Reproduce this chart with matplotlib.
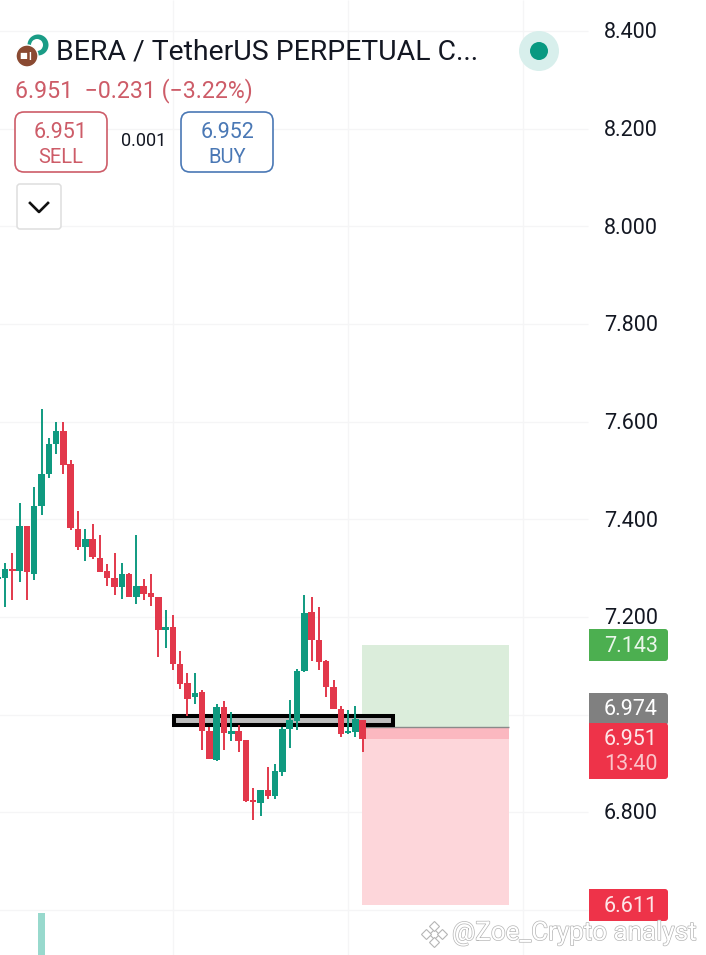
"""
BERA/USDT perpetual candles with a long position box, phone screenshot style.
Writes out.png at 706x955.
"""
import matplotlib
matplotlib.use("Agg")
import matplotlib.patheffects as pe
import matplotlib.pyplot as plt
import numpy as np
from matplotlib.patches import Circle, FancyBboxPatch, Rectangle

plt.rcParams["font.family"] = ["Roboto", "DejaVu Sans"]

W, H = 706, 955
GREEN = "#0f9a80"
RED = "#e2384b"
GRID = "#f5f5f6"
TEXT_DY = 2.2  # Roboto sits a little high with va="center"

opens = [7.277, 7.280, 7.299, 7.294, 7.386, 7.288, 7.427, 7.492, 7.554, 7.581,
         7.513, 7.381, 7.343, 7.359, 7.321, 7.294, 7.279, 7.261, 7.287, 7.240,
         7.264, 7.249, 7.241, 7.173, 7.179, 7.103, 7.064, 7.036, 7.046, 6.966,
         6.908, 7.015, 6.961, 6.966, 6.947, 6.824, 6.820, 6.845, 6.833, 6.882,
         6.971, 6.987, 7.089, 7.210, 7.152, 7.110, 7.057, 7.011, 6.962, 6.964,
         6.990]
closes = [7.282, 7.298, 7.294, 7.387, 7.292, 7.428, 7.493, 7.554, 7.581, 7.511,
          7.383, 7.343, 7.359, 7.323, 7.292, 7.280, 7.261, 7.287, 7.240, 7.263,
          7.247, 7.241, 7.173, 7.180, 7.104, 7.063, 7.033, 7.045, 6.966, 6.910,
          7.015, 6.962, 6.966, 6.945, 6.824, 6.821, 6.846, 6.833, 6.885, 6.971,
          6.990, 7.089, 7.209, 7.152, 7.108, 7.057, 7.011, 6.960, 6.966, 6.992,
          6.950]
highs = [7.300, 7.311, 7.332, 7.433, 7.386, 7.467, 7.626, 7.567, 7.599, 7.599,
         7.522, 7.417, 7.381, 7.391, 7.367, 7.308, 7.330, 7.311, 7.290, 7.367,
         7.277, 7.287, 7.241, 7.214, 7.205, 7.130, 7.085, 7.086, 7.050, 6.975,
         7.021, 7.027, 7.005, 6.978, 6.947, 6.850, 6.846, 6.893, 6.898, 6.975,
         7.029, 7.094, 7.244, 7.241, 7.220, 7.111, 7.070, 7.017, 7.009, 7.017,
         6.990]
lows = [7.250, 7.221, 7.234, 7.272, 7.234, 7.275, 7.408, 7.484, 7.534, 7.492,
        7.379, 7.338, 7.315, 7.319, 7.292, 7.263, 7.245, 7.237, 7.240, 7.226,
        7.234, 7.222, 7.118, 7.136, 7.091, 7.053, 6.998, 7.021, 6.928, 6.910,
        6.906, 6.928, 6.945, 6.923, 6.821, 6.785, 6.792, 6.828, 6.828, 6.874,
        6.932, 6.968, 7.087, 7.109, 7.091, 7.037, 7.011, 6.954, 6.960, 6.954,
        6.923]

price_ticks = [8.4, 8.2, 8.0, 7.8, 7.6, 7.4, 7.2, 6.8]
grid_prices = [8.4, 8.2, 8.0, 7.8, 7.6, 7.4, 7.2, 7.0, 6.8, 6.6]
time_grid = [24, 48, 72]

entry_price = 6.974
target_price = 7.143
stop_price = 6.611
last_price = 6.951
zone_low, zone_high = 6.979, 6.998
position_start, position_end = 49.9, 70.0
zone_start, zone_end = 24.1, 54.1
volume_index = 6
volume_top = 6.594


def price_y(price):
    return 31 + (8.4 - price) * 488.3


def label_box(ui, top, bottom, color, left=589, right=668):
    ui.add_patch(FancyBboxPatch((left + 4, top + 3), right - left - 7, bottom - top - 6,
                                boxstyle="round,pad=3", fc=color, ec="none", zorder=6))
    ui.add_patch(Rectangle((left, top), 8, bottom - top, fc=color, ec="none", zorder=6))


def label(ui, x, y, text, color, size, ha="center", zorder=7):
    ui.text(x, y + TEXT_DY, text, color=color, fontsize=size, ha=ha, va="center", zorder=zorder)


def draw_chart(ax):
    ax.set_xlim(2.3 / 7.3, (W + 2.3) / 7.3)
    ax.set_ylim(8.4 - (H - 31) / 488.3, 8.4 + 31 / 488.3)
    ax.axis("off")

    ax.hlines(grid_prices, 0, 80.9, color=GRID, lw=1.0, zorder=1)
    ax.vlines(time_grid, *ax.get_ylim(), color=GRID, lw=1.0, zorder=1)

    width = position_end - position_start
    ax.bar(position_start, target_price - entry_price, width, entry_price, align="edge",
           color="#dbeddb", zorder=2)
    ax.bar(position_start, stop_price - entry_price, width, entry_price, align="edge",
           color="#fdd6da", zorder=2)
    ax.bar(position_start, last_price - entry_price, width, entry_price, align="edge",
           color="#fbb8c0", zorder=2)
    ax.hlines(entry_price, position_start, position_end, color="#8a8a8a", lw=1, zorder=3)

    ax.bar(zone_start, zone_high - zone_low, zone_end - zone_start, zone_low, align="edge",
           fc="#bdbdbd", ec="black", lw=2.9, zorder=4)

    ax.bar(volume_index, volume_top - ax.get_ylim()[0], 0.85, ax.get_ylim()[0],
           color="#98d9cd", zorder=2)

    idx = np.arange(len(opens))
    o, c = np.array(opens), np.array(closes)
    colors = [GREEN if b >= a else RED for a, b in zip(o, c)]
    ax.vlines(idx, lows, highs, color=colors, lw=1.4, zorder=5)
    ax.bar(idx, np.maximum(np.abs(c - o), 0.004), 0.88, np.minimum(o, c), color=colors, zorder=5)


def draw_header(ui):
    dark = "#131722"
    sell = "#cd5c68"
    buy = "#4a78b5"

    ui.add_patch(Circle((38, 45), 10.5, fc="#1a9c86", ec="none"))
    ui.add_patch(Circle((37, 45), 6, fc="white", ec="none"))
    ui.add_patch(Circle((27, 56), 11, fc="#8a4a32", ec="white", lw=1))
    ui.text(27, 56, "\u25a0\u2759", color="white", fontsize=6, ha="center", va="center")
    label(ui, 56, 50, "BERA / TetherUS PERPETUAL C...", dark, 20.4, ha="left")
    label(ui, 15, 88, "6.951  \u22120.231 (\u22123.22%)", sell, 16.7, ha="left")

    for left, edge, price, side in [(15, sell, "6.951", "SELL"), (181, buy, "6.952", "BUY")]:
        ui.add_patch(FancyBboxPatch((left + 9, 121), 74, 42, boxstyle="round,pad=9",
                                    fc="white", ec=edge, lw=1.2, zorder=3))
        label(ui, left + 46, 130, price, edge, 15.5, zorder=4)
        label(ui, left + 46, 155, side, edge, 14.5, zorder=4)
    label(ui, 144, 139, "0.001", dark, 13)

    ui.add_patch(FancyBboxPatch((20, 187), 38, 39, boxstyle="round,pad=3",
                                fc="white", ec="#dedede", lw=1.1, zorder=3))
    ui.plot([30, 39, 48], [203, 212, 203], color="#111111", lw=1.9, zorder=4)

    ui.add_patch(Circle((539, 51), 20, fc="#d8efec", ec="none"))
    ui.add_patch(Circle((539, 51), 9, fc="#089981", ec="none"))


def draw_axis(ui):
    for price in price_ticks:
        label(ui, 631, price_y(price) - 0.5, f"{price:.3f}", "#131722", 15.5, zorder=5)

    label_box(ui, 629, 661, "#4caf50")
    label_box(ui, 693, 725, "#808080")
    label_box(ui, 723, 779, "#ee3349")
    label_box(ui, 889, 921, "#ee3349")
    label(ui, 631, price_y(target_price), f"{target_price:.3f}", "#eaf6ea", 15.5)
    label(ui, 631, 707, f"{entry_price:.3f}", "white", 15.5)
    label(ui, 631, 737, f"{last_price:.3f}", "#fde6e8", 15.5)
    label(ui, 631, 762, "13:40", "#fbc4ca", 15.5)
    label(ui, 631, price_y(stop_price), f"{stop_price:.3f}", "#fde6e8", 15.5)


def draw_watermark(ui):
    outline = [pe.withStroke(linewidth=1.0, foreground="#b5b5b5")]
    ui.text(452, 933, "@Zoe_Crypto analyst", color="white", fontsize=18.7, ha="left", va="center",
            path_effects=outline, zorder=8)
    ui.plot([434, 426, 442, 434, 434], [934, 934, 934, 926, 942], ls="none", marker="D", ms=5,
            mfc="white", mec="#b5b5b5", mew=0.8, zorder=8)


def main():
    fig = plt.figure(figsize=(W / 100, H / 100), dpi=100, facecolor="white")
    ax = fig.add_axes([0, 0, 1, 1])
    draw_chart(ax)

    # pixel-coordinate overlay for the app chrome
    ui = fig.add_axes([0, 0, 1, 1], facecolor="none")
    ui.set_xlim(0, W)
    ui.set_ylim(H, 0)
    ui.axis("off")
    draw_header(ui)
    draw_axis(ui)
    draw_watermark(ui)

    fig.savefig("out.png", dpi=100)
    plt.close(fig)


if __name__ == "__main__":
    main()
